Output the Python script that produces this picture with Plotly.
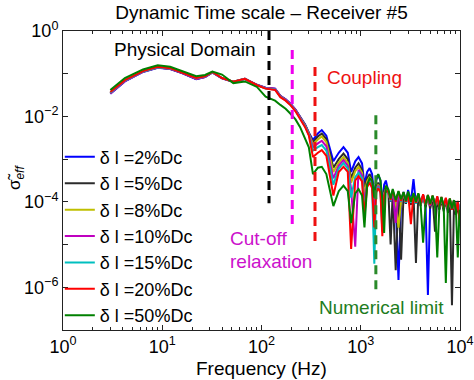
import plotly.graph_objects as go

# ---------------- data ----------------
freq_hz = [
    3, 4.2, 6.4, 9, 12, 16, 22, 27, 32, 40, 52, 68, 90, 110, 137, 155, 175, 195, 220, 245, 275, 300,
    330, 370, 405, 450, 530, 600, 670, 740, 800, 880, 950, 1030, 1090, 1160, 1230, 1300, 1370, 1430, 1500, 1580, 1650, 1720, 1790,
    1900, 2000, 2100, 2250, 2400, 2550, 2700, 2850, 3000, 3200, 3400, 3600, 3800, 4000, 4250, 4500, 4750, 5000, 5300, 5600,
    5900, 6200, 6500, 6850, 7200, 7550, 7900, 8300, 8700, 9100, 9500, 9900,
]

sigma_dl2 = [
    0.0339, 0.0661, 0.110, 0.138, 0.129, 0.102, 0.0741, 0.0832, 0.107, 0.0776, 0.0646, 0.0759, 0.0550, 0.0468, 0.0447, 0.0302, 0.0251, 0.0200, 0.0145, 0.00977, 0.00646, 0.00417,
    2.82e-3, 3.98e-3, 4.79e-3, 3.55e-3, 8.91e-4, 1.41e-3, 1.91e-3, 1.41e-3, 5.01e-4, 8.91e-4, 1.12e-3, 7.94e-4, 2.51e-4, 5.01e-4, 6.17e-4, 4.47e-4, 1.26e-4, 3.16e-4, 4.27e-4, 3.16e-4, 7.94e-5, 2.51e-4, 3.16e-4,
    1.7e-4, 1.0e-4, 1.8e-4, 9.0e-5, 1.48e-6, 1.0e-4, 1.7e-4, 9.0e-5, 1.9e-4, 1.0e-4, 3.4e-4, 9.0e-5, 1.5e-4, 8.5e-5, 1.4e-4, 8.0e-5, 6.6e-7, 8.0e-5, 1.3e-4, 7.5e-5,
    1.25e-4, 7.0e-5, 1.2e-4, 7.0e-5, 1.15e-4, 6.5e-5, 1.1e-4, 6.5e-5, 1.05e-4, 6.0e-5, 1.0e-4, 6.0e-5,
]
sigma_dl5 = [
    0.0347, 0.0676, 0.112, 0.140, 0.131, 0.104, 0.0759, 0.0851, 0.108, 0.0785, 0.0646, 0.0759, 0.0545, 0.0462, 0.0440, 0.0298, 0.0247, 0.0197, 0.0142, 0.00955, 0.00631, 0.00407,
    2.51e-3, 3.39e-3, 3.98e-3, 2.95e-3, 6.31e-4, 1.0e-3, 1.35e-3, 1.0e-3, 3.55e-4, 6.31e-4, 7.94e-4, 5.62e-4, 2.0e-4, 3.55e-4, 4.47e-4, 3.31e-4, 7.94e-5, 2.24e-4, 2.82e-4, 2.24e-4, 5.01e-5, 1.78e-4, 2.24e-4,
    1.6e-4, 1.0e-5, 1.7e-4, 2.5e-6, 1.6e-4, 4.4e-6, 1.5e-4, 9.0e-5, 1.5e-4, 8.5e-5, 1.45e-4, 3.7e-6, 1.45e-4, 8.0e-5, 1.4e-4, 7.5e-5, 1.3e-4, 7.0e-5, 1.25e-4, 2.0e-5,
    1.2e-4, 6.5e-5, 1.15e-4, 6.0e-5, 1.1e-4, 5.5e-5, 1.05e-4, 3.8e-7, 9.5e-5, 5.0e-5, 8.0e-5, 4.0e-5,
]
sigma_dl8 = [
    0.0355, 0.0685, 0.113, 0.141, 0.132, 0.105, 0.0770, 0.0855, 0.109, 0.0790, 0.0646, 0.0759, 0.0542, 0.0457, 0.0434, 0.0294, 0.0243, 0.0194, 0.0139, 0.00933, 0.00610, 0.00395,
    2.24e-3, 2.88e-3, 3.39e-3, 2.51e-3, 5.01e-4, 8.32e-4, 1.12e-3, 8.32e-4, 2.82e-4, 5.25e-4, 6.61e-4, 4.79e-4, 1.58e-4, 3.02e-4, 3.80e-4, 2.82e-4, 6.31e-5, 2.0e-4, 2.51e-4, 2.0e-4, 3.98e-5, 1.58e-4, 2.0e-4,
    1.65e-4, 1.05e-4, 1.75e-4, 1.0e-4, 2.5e-5, 1.0e-4, 1.6e-4, 9.5e-5, 1.6e-4, 9.5e-5, 1.5e-4, 9.0e-5, 1.5e-4, 8.5e-5, 1.45e-4, 8.5e-5, 1.4e-4, 8.5e-5, 1.35e-4, 8.0e-5,
    1.3e-4, 7.5e-5, 1.25e-4, 7.5e-5, 1.2e-4, 7.0e-5, 1.15e-4, 6.5e-5, 1.1e-4, 6.0e-5, 1.0e-4, 6.0e-5,
]
sigma_dl10 = [
    0.0345, 0.0670, 0.111, 0.139, 0.130, 0.103, 0.0750, 0.0840, 0.108, 0.0780, 0.0640, 0.0755, 0.0548, 0.0465, 0.0444, 0.0300, 0.0249, 0.0198, 0.0143, 0.00960, 0.00600, 0.00385,
    1.91e-3, 2.34e-3, 2.69e-3, 2.0e-3, 3.55e-4, 7.08e-4, 9.55e-4, 7.08e-4, 2.0e-4, 8.91e-6, 5.62e-4, 4.17e-4, 1.0e-4, 2.63e-4, 3.31e-4, 2.51e-4, 5.01e-5, 1.91e-4, 2.40e-4, 1.91e-4, 3.16e-5, 1.51e-4, 1.91e-4,
    1.6e-4, 1.1e-4, 1.7e-4, 3.2e-5, 1.6e-4, 1.0e-4, 1.6e-4, 9.5e-5, 1.55e-4, 9.5e-5, 1.5e-4, 9.0e-5, 1.5e-4, 8.5e-5, 1.45e-4, 8.5e-5, 1.4e-4, 8.0e-5, 1.35e-4, 8.0e-5,
    1.3e-4, 7.5e-5, 1.25e-4, 7.5e-5, 1.2e-4, 7.0e-5, 1.15e-4, 6.5e-5, 1.1e-4, 6.0e-5, 1.0e-4, 6.0e-5,
]
sigma_dl15 = [
    0.0360, 0.0690, 0.113, 0.142, 0.133, 0.106, 0.0780, 0.0860, 0.109, 0.0790, 0.0645, 0.0758, 0.0540, 0.0452, 0.0428, 0.0290, 0.0240, 0.0190, 0.0136, 0.00900, 0.00585, 0.00370,
    1.58e-3, 1.91e-3, 2.14e-3, 1.58e-3, 2.51e-4, 6.03e-4, 8.13e-4, 6.03e-4, 1.26e-4, 3.80e-4, 4.79e-4, 3.55e-4, 6.31e-5, 2.40e-4, 3.02e-4, 2.24e-4, 3.55e-6, 1.78e-4, 2.24e-4, 1.78e-4, 2.0e-5, 1.41e-4, 1.78e-4,
    1.7e-4, 1.05e-4, 1.8e-4, 1.0e-4, 1.7e-4, 1.0e-4, 1.65e-4, 9.5e-5, 1.6e-4, 9.5e-5, 1.55e-4, 9.0e-5, 1.5e-4, 9.0e-5, 1.45e-4, 8.5e-5, 1.4e-4, 8.5e-5, 1.35e-4, 8.0e-5,
    1.3e-4, 7.5e-5, 1.25e-4, 7.5e-5, 1.2e-4, 7.0e-5, 1.15e-4, 6.5e-5, 1.1e-4, 6.0e-5, 1.0e-4, 6.0e-5,
]
sigma_dl20 = [
    0.0372, 0.0708, 0.115, 0.145, 0.135, 0.107, 0.0794, 0.0871, 0.110, 0.0794, 0.0646, 0.0759, 0.0537, 0.0447, 0.0417, 0.0282, 0.0234, 0.0186, 0.0132, 0.00871, 0.00562, 0.00355,
    1.12e-3, 1.41e-3, 1.62e-3, 1.20e-3, 1.41e-4, 5.01e-4, 6.61e-4, 5.01e-4, 7.94e-6, 3.16e-4, 3.98e-4, 3.02e-4, 5.01e-5, 2.24e-4, 2.82e-4, 2.09e-4, 2.51e-5, 1.66e-4, 2.09e-4, 1.66e-4, 1.58e-5, 1.41e-4, 1.78e-4,
    1.75e-4, 1.1e-4, 1.85e-4, 1.0e-4, 1.75e-4, 1.05e-4, 1.65e-4, 1.0e-4, 1.65e-4, 3.0e-5, 1.55e-4, 9.5e-5, 1.55e-4, 9.0e-5, 1.5e-4, 8.5e-5, 1.45e-4, 8.5e-5, 1.4e-4, 8.0e-5,
    1.35e-4, 7.5e-5, 1.3e-4, 7.5e-5, 1.25e-4, 7.0e-5, 1.2e-4, 6.5e-5, 1.1e-4, 6.0e-5, 1.05e-4, 3.0e-5,
]
sigma_dl50 = [
    0.0417, 0.0794, 0.126, 0.158, 0.145, 0.112, 0.0871, 0.0933, 0.112, 0.0955, 0.0603, 0.0660, 0.0490, 0.0290, 0.0234, 0.0186, 0.0151, 0.0117, 0.00850, 0.00560, 0.00316, 0.00190,
    4.47e-4, 6.31e-4, 6.61e-4, 4.47e-4, 7.94e-5, 1.78e-4, 2.40e-4, 1.78e-4, 3.16e-5, 1.58e-4, 2.0e-4, 1.41e-4, 2.51e-5, 2.51e-4, 3.55e-4, 3.16e-4, 1.26e-4, 3.55e-4, 4.47e-4, 3.16e-4, 1.12e-4, 1.86e-5, 2.40e-4,
    1.95e-4, 1.2e-4, 2.0e-4, 1.1e-4, 1.8e-4, 1.15e-4, 1.7e-4, 1.05e-4, 1.75e-4, 1.0e-4, 1.6e-4, 1.0e-4, 1.6e-4, 9.5e-5, 1.1e-5, 9.0e-5, 1.45e-4, 9.0e-5, 1.4e-4, 8.5e-5,
    5.0e-6, 8.0e-5, 1.3e-4, 8.0e-5, 1.26e-6, 7.6e-5, 1.2e-4, 7.0e-5, 1.1e-4, 6.5e-5, 5.0e-6, 6.5e-5,
]

series_labels = ["δ l =2%Dc", "δ l =5%Dc", "δ l =8%Dc", "δ l =10%Dc",
                 "δ l =15%Dc", "δ l =20%Dc", "δ l =50%Dc"]
series_values = [sigma_dl2, sigma_dl5, sigma_dl8, sigma_dl10, sigma_dl15, sigma_dl20, sigma_dl50]
series_colors = ["#0000ff", "#2b2b2b", "#bfbf00", "#bf00bf", "#00bfbf", "#ff0000", "#008000"]

# dashed limit markers (frequency, top value, bottom value)
limit_freq_hz = [119, 204, 346, 1420]
limit_top = [1.0, 0.359, 0.144, 0.0107]
limit_bottom = [9.3e-5, 2.45e-5, 1.1e-5, 7.8e-7]
limit_colors = ["#000000", "#ee00ee", "#ee1111", "#2a8a2a"]

x_tick_vals = [1, 10, 100, 1000, 10000]
x_tick_text = ["10<sup>0</sup>", "10<sup>1</sup>", "10<sup>2</sup>", "10<sup>3</sup>", "10<sup>4</sup>"]
x_minor_vals = [m * d for d in [1, 10, 100, 1000] for m in range(2, 10)]
y_tick_vals = [1, 1e-1, 1e-2, 1e-3, 1e-4, 1e-5, 1e-6, 1e-7]
y_tick_text = ["10<sup>0</sup>", "", "10<sup>−2</sup>", "", "10<sup>−4</sup>", "", "10<sup>−6</sup>", ""]

FONT = "Liberation Sans, Arial, Helvetica, sans-serif"

fig = go.Figure()
for name, vals, col in zip(series_labels, series_values, series_colors):
    fig.add_trace(go.Scatter(x=freq_hz, y=vals, mode="lines", name=name,
                             line=dict(color=col, width=2)))

for f, t, b, c in zip(limit_freq_hz, limit_top, limit_bottom, limit_colors):
    fig.add_trace(go.Scatter(x=[f, f], y=[t, b], mode="lines", showlegend=False,
                             hoverinfo="skip", line=dict(color=c, width=3, dash="9px,6px")))

axis_common = dict(showline=True, linecolor="#222222", linewidth=1, mirror="allticks",
                   ticks="inside", ticklen=5, tickcolor="#222222", showgrid=False,
                   zeroline=False, automargin=False,
                   tickfont=dict(size=18, color="black", family=FONT))

fig.update_layout(
    width=474, height=380, autosize=False,
    margin=dict(l=63, r=14, t=31, b=50, autoexpand=False),
    paper_bgcolor="white", plot_bgcolor="white",
    font=dict(family=FONT, size=19, color="black"),
    title=dict(text="Dynamic Time scale – Receiver #5", x=0.5, xref="paper",
               y=1 - 12 / 380, yref="container", yanchor="middle",
               font=dict(size=19, color="black", family=FONT)),
    xaxis=dict(type="log", range=[0, 4], tickmode="array", tickvals=x_tick_vals,
               ticktext=x_tick_text,
               minor=dict(tickmode="array", tickvals=x_minor_vals, ticks="inside",
                          ticklen=3, tickcolor="#222222", showgrid=False),
               **axis_common),
    yaxis=dict(type="log", range=[-7, 0], tickmode="array", tickvals=y_tick_vals,
               ticktext=y_tick_text, **axis_common),
    legend=dict(x=-0.008, y=0.64, xanchor="left", yanchor="top", bgcolor="rgba(0,0,0,0)",
                borderwidth=0, font=dict(size=18, color="black", family=FONT),
                tracegroupgap=0),
    showlegend=True,
)

annotations = [
    dict(text="Physical Domain", x=(185 - 63) / 397, y=(330 - 50) / 299, color="black", anchor="center"),
    dict(text="Coupling", x=(364 - 63) / 397, y=(330 - 77) / 299, color="#ee1111", anchor="center"),
    dict(text="Cut-off", x=(228 - 63) / 397, y=(330 - 238) / 299, color="#cc11cc", anchor="left"),
    dict(text="relaxation", x=(228 - 63) / 397, y=(330 - 261) / 299, color="#cc11cc", anchor="left"),
    dict(text="Numerical limit", x=(381 - 63) / 397, y=(330 - 307) / 299, color="#1e7d1e", anchor="center"),
]
for a in annotations:
    fig.add_annotation(text=a["text"], x=a["x"], y=a["y"], xref="paper", yref="paper",
                       xanchor=a["anchor"], yanchor="middle", showarrow=False,
                       font=dict(size=19, color=a["color"], family=FONT))

fig.add_annotation(text="Frequency (Hz)", x=0.5, y=(330 - 368) / 299, xref="paper", yref="paper",
                   xanchor="center", yanchor="middle", showarrow=False,
                   font=dict(size=19, color="black", family=FONT))
fig.add_annotation(text="σ̃<sub><i>eff</i></sub>", x=(16 - 63) / 397, y=(330 - 178) / 299,
                   xref="paper", yref="paper", xanchor="center", yanchor="middle",
                   showarrow=False, textangle=-90,
                   font=dict(size=17, color="black", family=FONT))

fig.write_html("out.html", config={"displayModeBar": False},
               post_script="document.body.style.margin='0';document.body.style.overflow='hidden';")
